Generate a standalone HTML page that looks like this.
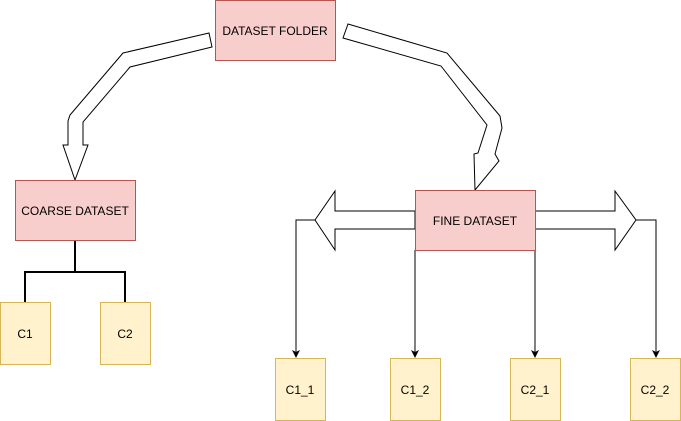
<!DOCTYPE html>
<html><head><meta charset="utf-8"><style>body{margin:0;background:#fff}svg{display:block}text{font-family:"Liberation Sans",sans-serif;font-size:12px;fill:#000}</style></head><body>
<svg width="681" height="421" viewBox="0 0 681 421" xmlns="http://www.w3.org/2000/svg">
<defs><marker id="a" markerWidth="8" markerHeight="8" refX="7" refY="4" orient="auto" markerUnits="userSpaceOnUse"><path d="M0,0 L8,4 L0,8 L2,4 Z" fill="#000"/></marker></defs>
<!-- left big arrow -->
<path d="M209,33 L123,53 L70,115 L68,121 L68,145 L63,145 L75,180 L88,145 L83,145 L83,122 L130,67 L212,47 Z" fill="#fff" stroke="#000" stroke-width="1"/>
<!-- right big arrow -->
<path d="M348,24 L447,53 L500,116 L502,128 L495,154 L499,161 L475,190 L474,154 L478,153 L487,125 L441,66 L343,38 Z" fill="#fff" stroke="#000" stroke-width="1"/>
<!-- fine dataset side arrows -->
<path d="M415,211 L335,211 L335,191 L315,220 L335,250 L335,229 L415,229 Z" fill="#fff" stroke="#000"/>
<path d="M535,211 L615,211 L615,191 L636,220 L615,250 L615,229 L535,229 Z" fill="#fff" stroke="#000"/>
<!-- connectors -->
<g stroke="#000" fill="none" stroke-width="1">
<path d="M315,220 H296 V357" marker-end="url(#a)"/>
<path d="M636,220 H656 V357" marker-end="url(#a)"/>
<path d="M415,250 V357" marker-end="url(#a)"/>
<path d="M535,250 V357" marker-end="url(#a)"/>
</g>
<g stroke="#000" fill="none" stroke-width="2">
<path d="M75,240 V272 M25,302 V272 H125 V302"/>
</g>
<!-- boxes -->
<g fill="#f8cecc" stroke="#b85450">
<rect x="215.5" y="0.5" width="120" height="60"/>
<rect x="15.5" y="180.5" width="120" height="60"/>
<rect x="415.5" y="190.5" width="120" height="60"/>
</g>
<g fill="#fff2cc" stroke="#d6b656">
<rect x="0.5" y="302.5" width="50" height="62"/>
<rect x="100.5" y="302.5" width="50" height="62"/>
<rect x="275.5" y="358.5" width="50" height="62"/>
<rect x="390.5" y="358.5" width="50" height="62"/>
<rect x="510.5" y="358.5" width="50" height="62"/>
<rect x="630.5" y="358.5" width="50" height="62"/>
</g>
<g text-anchor="middle">
<text x="275" y="35">DATASET FOLDER</text>
<text x="75" y="215">COARSE DATASET</text>
<text x="475" y="225">FINE DATASET</text>
<text x="25" y="338">C1</text>
<text x="125" y="338">C2</text>
<text x="300" y="394">C1_1</text>
<text x="415" y="394">C1_2</text>
<text x="535" y="394">C2_1</text>
<text x="655" y="394">C2_2</text>
</g>
</svg>
</body></html>
